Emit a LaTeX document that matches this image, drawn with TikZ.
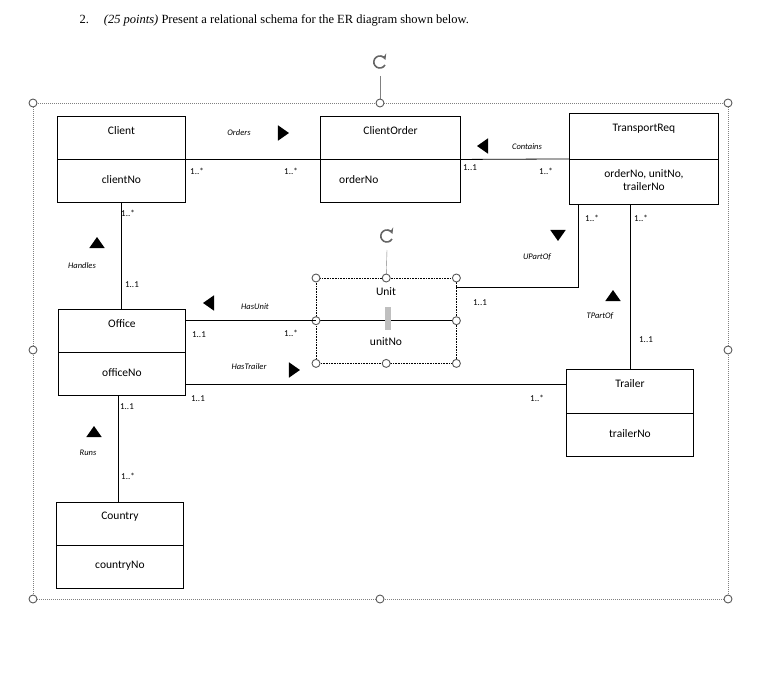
\documentclass[tikz,border=0pt]{standalone}
\usepackage{fontspec}
\setmainfont{Carlito}
\newfontfamily\titlefont{Liberation Serif}
\usetikzlibrary{calc,shapes.geometric}
\tikzset{
  entity/.style={draw, line width=.9pt, inner sep=0pt},
  enttext/.style={font=\fontsize{11.5}{13}\selectfont, align=center},
  rel/.style={font=\fontsize{8.5}{10}\selectfont\itshape},
  mult/.style={font=\fontsize{9}{10}\selectfont, inner sep=1pt},
  conn/.style={line width=.8pt},
  tri/.style={isosceles triangle, fill=black, inner sep=0pt, minimum width=14pt, minimum height=11pt, isosceles triangle apex angle=70},
  handle/.style={circle, draw=gray!70!black, fill=white, line width=.9pt, minimum size=8pt, inner sep=0pt},
  frame/.style={gray, dash pattern=on 1pt off 1pt, line width=.5pt},
}
\newcommand\erentity[7]{
  \node[entity, minimum width=#4, minimum height=#5, anchor=north west] (#1) at (#2,#3) {};
  \draw[line width=.9pt] (#1.west) -- (#1.east);
  \node[enttext] (#1-t) at ($(#1.north)!.17!(#1.south)$) {#6};
  \node[enttext] (#1-k) at ($(#1.north)!.73!(#1.south)$) {#7};
}
\newcommand\rotmark[1]{
  \draw[gray!80!black, line width=1.6pt, ->, >=stealth] ($(#1)+(5,-3)$) arc (30:340:6);
}
\begin{document}
\begin{tikzpicture}[x=1pt, y=-1pt]
  \useasboundingbox (0,0) rectangle (761,685);
  \node[anchor=west, font=\titlefont\fontsize{12.5}{14}\selectfont] (title) at (76,20)
    {2.\hspace{1.2em}\textit{(25 points)} Present a relational schema for the ER diagram shown below.};
  % selection frame
  \draw[frame] (33,103) rectangle (728,599);
  \coordinate (rot1) at (380,68);
  \draw[gray] (rot1) ++(0,8) -- (380,103);
  \rotmark{rot1}
  \foreach \p in {(33,103),(380,103),(728,103),(33,350),(728,350),(33,599),(380,599),(728,599)}
    \node[handle] at \p {};
  % entities
  \erentity{client}{57}{116}{128pt}{86pt}{Client}{clientNo}
  \erentity{order}{320}{116}{140pt}{86pt}{ClientOrder}{\hspace*{-5.5em}orderNo}
  \erentity{treq}{569}{113}{149pt}{91pt}{TransportReq}{orderNo, unitNo,\\trailerNo}
  \erentity{office}{58}{309}{127pt}{86pt}{Office}{officeNo}
  \erentity{trailer}{566}{369}{127pt}{87pt}{Trailer}{trailerNo}
  \erentity{country}{56}{502}{127pt}{86pt}{Country}{countryNo}
  % unit (selected)
  \node[draw, dash pattern=on .8pt off .8pt, minimum width=140pt, minimum height=85pt, anchor=north west, inner sep=0pt] (unit) at (316,278) {};
  \draw[line width=.8pt] (unit.west) -- (unit.east);
  \node[enttext] (unit-t) at (386,292) {Unit};
  \node[enttext] (unit-k) at (386,342) {unitNo};
  \fill[gray!50] (385,307) rectangle (391,330);
  \coordinate (rot2) at (387,242);
  \draw[gray] (rot2) ++(0,8) -- (unit.north);
  \rotmark{rot2}
  \foreach \a in {north west,north,north east,west,east,south west,south,south east}
    \node[handle] at (unit.\a) {};
  % connectors
  \draw[conn] (client.east) -- (order.west);
  \draw[conn] (order.east) -- (treq.west);
  \draw[conn] (client.south) -- (client.south |- office.north);
  \coordinate (tq1) at ($(treq.south west)+(9,0)$);
  \coordinate (un1) at ($(unit.north east)+(0,9)$);
  \draw[conn] (tq1) |- (un1);
  \coordinate (tq2) at (trailer.north -| 630,0);
  \draw[conn] (treq.south -| tq2) -- (tq2);
  \draw[conn] (office.east |- unit.west) -- (unit.west);
  \coordinate (of1) at ($(office.south east)+(0,-12)$);
  \draw[conn] (of1) -- (of1 -| trailer.west);
  \draw[conn] ($(office.south)+(-4,0)$) -- ($(country.north)+(-2,0)$);
  % relationship names and directions
  \node[rel] (orders) at (239,133) {Orders};
  \node[tri] (orders-d) at (282,133) {};
  \node[rel] (contains) at (527,147) {Contains};
  \node[tri, shape border rotate=180] (contains-d) at (484,146) {};
  \node[rel] (handles) at (82,266) {Handles};
  \node[tri, shape border rotate=90] (handles-d) at (97,244) {};
  \node[rel] (upartof) at (537,257) {UPartOf};
  \node[tri, shape border rotate=270] (upartof-d) at (558,234) {};
  \node[rel] (tpartof) at (600,316) {TPartOf};
  \node[tri, shape border rotate=90] (tpartof-d) at (613,297) {};
  \node[rel] (hasunit) at (255,307) {HasUnit};
  \node[tri, shape border rotate=180] (hasunit-d) at (210,303) {};
  \node[rel] (hastrailer) at (249,367) {HasTrailer};
  \node[tri] (hastrailer-d) at (293,370) {};
  \node[rel] (runs) at (88,453) {Runs};
  \node[tri, shape border rotate=90] (runs-d) at (94,433) {};
  % multiplicities
  \node[mult] at (197,171) {1..*};
  \node[mult] at (291,171) {1..*};
  \node[mult] at (470,168) {1..1};
  \node[mult] at (546,171) {1..*};
  \node[mult] at (128,213) {1..*};
  \node[mult] at (132,285) {1..1};
  \node[mult] at (592,218) {1..*};
  \node[mult] at (641,218) {1..*};
  \node[mult] at (480,303) {1..1};
  \node[mult] at (646,340) {1..1};
  \node[mult] at (199,335) {1..1};
  \node[mult] at (291,333) {1..*};
  \node[mult] at (198,399) {1..1};
  \node[mult] at (537,398) {1..*};
  \node[mult] at (127,407) {1..1};
  \node[mult] at (128,476) {1..*};
\end{tikzpicture}
\end{document}
